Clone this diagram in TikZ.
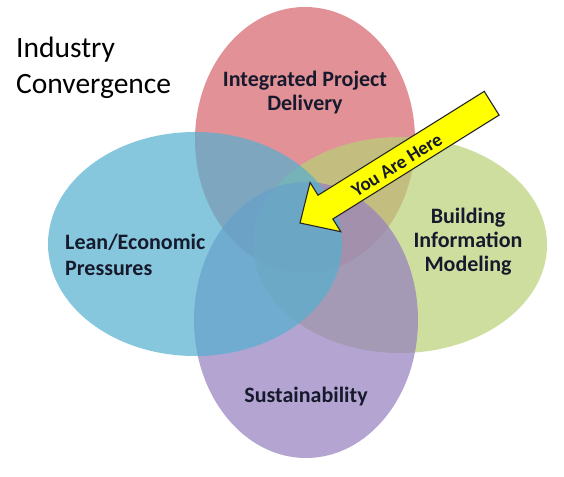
\documentclass[tikz,border=0pt]{standalone}
\usepackage{fontspec}
\setmainfont{Carlito}
\usepackage{xcolor}
\usepackage{tikz}

\definecolor{ipdred}{RGB}{214,99,108}
\definecolor{leanblue}{RGB}{84,176,208}
\definecolor{bimgreen}{RGB}{184,208,119}
\definecolor{susviolet}{RGB}{148,126,191}
\definecolor{labtext}{RGB}{22,26,44}
\definecolor{hereyellow}{RGB}{255,255,0}

\begin{document}
\begin{tikzpicture}[x=1pt,y=-1pt,
  blob/.style={fill opacity=0.7},
  lab/.style={font=\fontsize{22}{24}\selectfont\bfseries,text=labtext,align=center,inner sep=0pt},
  ttl/.style={font=\fontsize{29.5}{36}\selectfont,align=left,anchor=west,inner sep=0pt},
  here/.style={fill=hereyellow,draw=black!85,line width=1.1pt,line join=miter}]
\useasboundingbox (0,0) rectangle (564,476);
\fill[white] (0,0) rectangle (564,476);
% four overlapping sets
\fill[blob,ipdred] (305,140) ellipse [x radius=110pt,y radius=133pt];
\fill[blob,bimgreen] (400,245) ellipse [x radius=147pt,y radius=108pt];
\fill[blob,susviolet] (306,320) ellipse [x radius=112pt,y radius=138pt];
\fill[blob,leanblue] (195,244) ellipse [x radius=147pt,y radius=112pt];
\node[ttl] (title) at (16,68) {Industry\\Convergence};
\node[lab] (ipd) at (305,93) {Integrated Project\\Delivery};
\node[lab,align=left,anchor=west,font=\fontsize{22}{26}\selectfont\bfseries] (lean) at (65,255) {Lean/Economic\\Pressures};
\node[lab] (bim) at (468,242) {Building\\Information\\Modeling};
\node[lab] (sus) at (306,397) {Sustainability};
% the pointer
\begin{scope}[shift={(300,223)},rotate=32]
\filldraw[here] (0,0) -- (30,-29) -- (30,-14) -- (226,-14) -- (226,14) -- (30,14) -- (30,29) -- cycle;
\end{scope}
\node[rotate=32,font=\fontsize{19}{19}\selectfont\bfseries,text=labtext,inner sep=0pt] (you) at (397,165) {You Are Here};
\end{tikzpicture}
\end{document}
